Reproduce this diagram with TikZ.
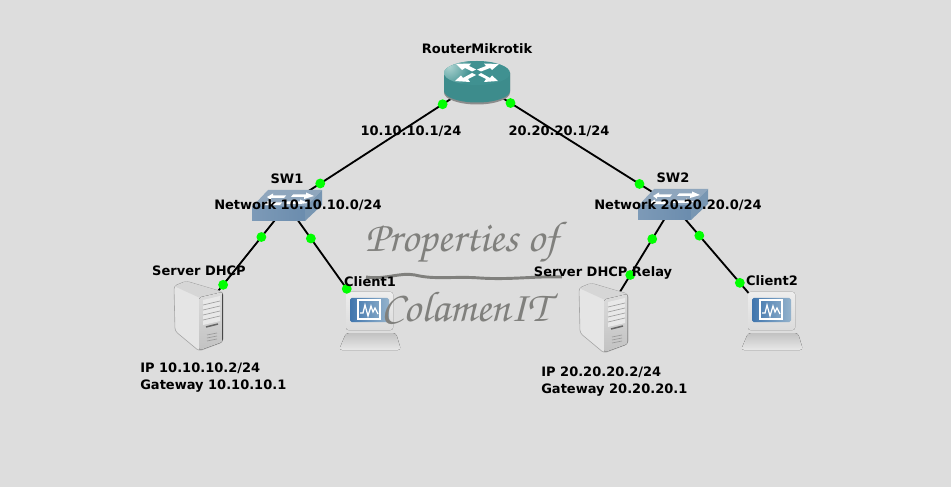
\documentclass[tikz,border=0pt]{standalone}
\usepackage[T1]{fontenc}
\usepackage{fontspec}
\setmainfont{DejaVu Sans}
\definecolor{Canvas}{rgb}{0.867,0.867,0.867}
\definecolor{PortGreen}{rgb}{0,1,0}
\definecolor{RouterTeal}{rgb}{0.24,0.55,0.55}
\definecolor{RouterTop}{rgb}{0.25,0.57,0.57}
\definecolor{RouterGlow}{rgb}{0.68,0.83,0.82}
\definecolor{SwitchFront}{rgb}{0.42,0.55,0.68}
\definecolor{SwitchTop}{rgb}{0.56,0.65,0.74}
\definecolor{SwitchSide}{rgb}{0.47,0.59,0.70}
\definecolor{ScreenBlue}{rgb}{0.25,0.46,0.68}
\definecolor{ScreenGlow}{rgb}{0.58,0.70,0.80}
\definecolor{MarkGray}{rgb}{0.5,0.5,0.49}
\tikzset{
	anchorpt/.style={inner sep=0pt,minimum size=0pt},
	link/.style={black,line width=1.2pt},
	port/.style={circle,fill=PortGreen,inner sep=0pt,minimum size=6.4pt},
	lbl/.style={inner sep=0pt,font=\bfseries\fontsize{8.45}{11}\selectfont},
	watermark/.style={inner sep=0pt,text=MarkGray,font=\fontencoding{T1}\fontfamily{pzc}\fontseries{mb}\fontshape{it}\fontsize{28}{30}\selectfont},
}
\begin{document}
\begin{tikzpicture}[x=0.65pt,y=0.65pt,yscale=-1,xscale=1]
	% Canvas
	\fill[Canvas] (0,0) rectangle (951,487);
	\useasboundingbox (0,0) rectangle (951,487);

	% Device centres
	\node[anchorpt] (router) at (477,82) {};
	\node[anchorpt] (sw1) at (287,205) {};
	\node[anchorpt] (sw2) at (673,205) {};
	\node[anchorpt] (server1) at (199,315) {};
	\node[anchorpt] (client1) at (369,320) {};
	\node[anchorpt] (server2) at (604,318) {};
	\node[anchorpt] (client2) at (770,318) {};

	% Links, under the devices
	\draw[link] (router) -- (sw1);
	\draw[link] (router) -- (sw2);
	\draw[link] (sw1) -- (server1);
	\draw[link] (sw1) -- (client1);
	\draw[link] (sw2) -- (server2);
	\draw[link] (sw2) -- (client2);

	% Router
	\fill[black!45] (444,73) -- (444,92.5) arc[start angle=180,end angle=0,x radius=33,y radius=12] -- (510,73) -- cycle;
	\fill[RouterTeal] (444,73) -- (444,91) arc[start angle=180,end angle=0,x radius=33,y radius=11.5] -- (510,73) -- cycle;
	\fill[RouterTop] (477,73) ellipse[x radius=33,y radius=12];
	\begin{scope}
		\clip (477,73) ellipse[x radius=33,y radius=12];
		\shade[inner color=RouterGlow,outer color=RouterTop] (449,66) circle[radius=22];
	\end{scope}
	\fill[white] (456,64) -- (471,63.5) -- (469,66) -- (476,69.5) -- (472,71.5) -- (465,68) -- (462,70) -- cycle;
	\fill[white] (499,64) -- (484,63.5) -- (486,66) -- (477,69.5) -- (481,71.5) -- (490,68) -- (492,70) -- cycle;
	\fill[white] (455,81) -- (470,82) -- (468,79) -- (476,75) -- (472,73) -- (463,78) -- (461,75.5) -- cycle;
	\fill[white] (498,81) -- (484,82) -- (486,79) -- (478,75) -- (481,73) -- (490,78) -- (492,75.5) -- cycle;

	% Switches
	\foreach \sx/\sy in {0/0,386/-1}{
		\begin{scope}[shift={(\sx,\sy)}]
			\fill[SwitchTop] (252,207) -- (268,190) -- (322,190) -- (305,207) -- cycle;
			\fill[left color=SwitchFront!88!white,right color=SwitchFront] (252,207) -- (305,207) -- (305,221) -- (252,221) -- cycle;
			\fill[SwitchSide] (305,207) -- (322,190) -- (322,205) -- (305,221) -- cycle;
			\fill[white] (267,197) -- (273,193.5) -- (273,195.5) -- (286,195.5) -- (284,198) -- (271,198) -- (271,200) -- cycle;
			\fill[white] (314,196) -- (306,192.5) -- (306,194.5) -- (293,194.5) -- (291,197) -- (304,197) -- (304,199) -- cycle;
			\fill[white] (263,204) -- (269,200.5) -- (269,202.5) -- (282,202.5) -- (280,205) -- (267,205) -- cycle;
			\fill[white] (308,203) -- (300,199.5) -- (300,201.5) -- (287,201.5) -- (285,204) -- (300,204) -- cycle;
		\end{scope}
	}

	% Servers
	\foreach \sx/\sy in {0/0,405/2}{
		\begin{scope}[shift={(\sx,\sy)}]
			\fill[black!10,rounded corners=2pt,draw=black!35,line width=0.4pt] (174,286) -- (186,281) -- (223,292) -- (223,342) -- (199,351) -- (175,331) -- cycle;
			\fill[black!16] (175,286.5) -- (186,281.5) -- (222.5,292) -- (199,297.5) -- cycle;
			\fill[top color=black!14,bottom color=black!24,rounded corners=1.5pt] (199,297.5) -- (222.5,292) -- (222.5,342) -- (199,350.5) -- cycle;
			\fill[black!9] (203,300) -- (220,296) -- (220,321) -- (203,325) -- cycle;
			\foreach \dy in {0,5,10,15}
				\draw[black!40,line width=0.4pt] (203,305+\dy) -- (220,301+\dy);
			\draw[black!60,line width=1pt] (206,327) -- (218,324);
			\foreach \dy in {0,3,6}
				\draw[black!40,line width=0.4pt] (207,335+\dy) -- (217,333+\dy);
		\end{scope}
	}

	% Clients
	\foreach \sx in {0,402}{
		\begin{scope}[shift={(\sx,0)}]
			\fill[top color=black!24,bottom color=black!9,rounded corners=2pt] (346,333) -- (396,333) -- (401,350) -- (339,350) -- cycle;
			\fill[top color=black!7,bottom color=black!14,rounded corners=1.5pt] (346,292) rectangle (393,330);
			\shade[left color=ScreenBlue,right color=ScreenGlow,rounded corners=1pt] (350,298) rectangle (389,322);
			\draw[white,line width=1pt] (358,300) rectangle (380,319);
			\draw[white,line width=0.8pt] (360,313) -- (363,313) -- (365,305) -- (368,316) -- (371,306) -- (373,312) -- (375,308) -- (378,314);
		\end{scope}
	}

	% Watermark
	\node[watermark] (markone) at (462,243) {Properties of};
	\node[watermark] (marktwo) at (465,306) {ColamenIT};
	\draw[MarkGray,line width=1.9pt] (366,277) .. controls (385,280) and (400,272) .. (415,275) .. controls (435,280) and (455,276) .. (480,278) .. controls (510,280) and (535,276) .. (562,277);

	% Ports
	\path (router) -- node[port,pos=0.18] (p1) {} node[port,pos=0.826] (p2) {} (sw1);
	\path (router) -- node[port,pos=0.17] (p3) {} node[port,pos=0.83] (p4) {} (sw2);
	\path (sw1) -- node[port,pos=0.29] (p5) {} node[port,pos=0.727] (p6) {} (server1);
	\path (sw1) -- node[port,pos=0.29] (p7) {} node[port,pos=0.73] (p8) {} (client1);
	\path (sw2) -- node[port,pos=0.30] (p9) {} node[port,pos=0.62] (p10) {} (server2);
	\path (sw2) -- node[port,pos=0.27] (p11) {} node[port,pos=0.69] (p12) {} (client2);

	% Labels
	\node[lbl] (routerlbl) at (477,49) {RouterMikrotik};
	\node[lbl] (gwone) at (411,131) {10.10.10.1/24};
	\node[lbl] (gwtwo) at (559,131) {20.20.20.1/24};
	\node[lbl] (swonelbl) at (287,179) {SW1};
	\node[lbl] (swtwolbl) at (673,178) {SW2};
	\node[lbl] (netone) at (298,205) {Network 10.10.10.0/24};
	\node[lbl] (nettwo) at (678,205) {Network 20.20.20.0/24};
	\node[lbl] (serveronelbl) at (199,271) {Server DHCP};
	\node[lbl] (clientonelbl) at (370,282) {Client1};
	\node[lbl] (servertwolbl) at (603,273) {Server DHCP Relay};
	\node[lbl] (clienttwolbl) at (772,281) {Client2};
	\node[lbl,anchor=west,align=left] (ipone) at (140,377.5) {IP 10.10.10.2/24\\Gateway 10.10.10.1};
	\node[lbl,anchor=west,align=left] (iptwo) at (541,381.5) {IP 20.20.20.2/24\\Gateway 20.20.20.1};
\end{tikzpicture}
\end{document}
